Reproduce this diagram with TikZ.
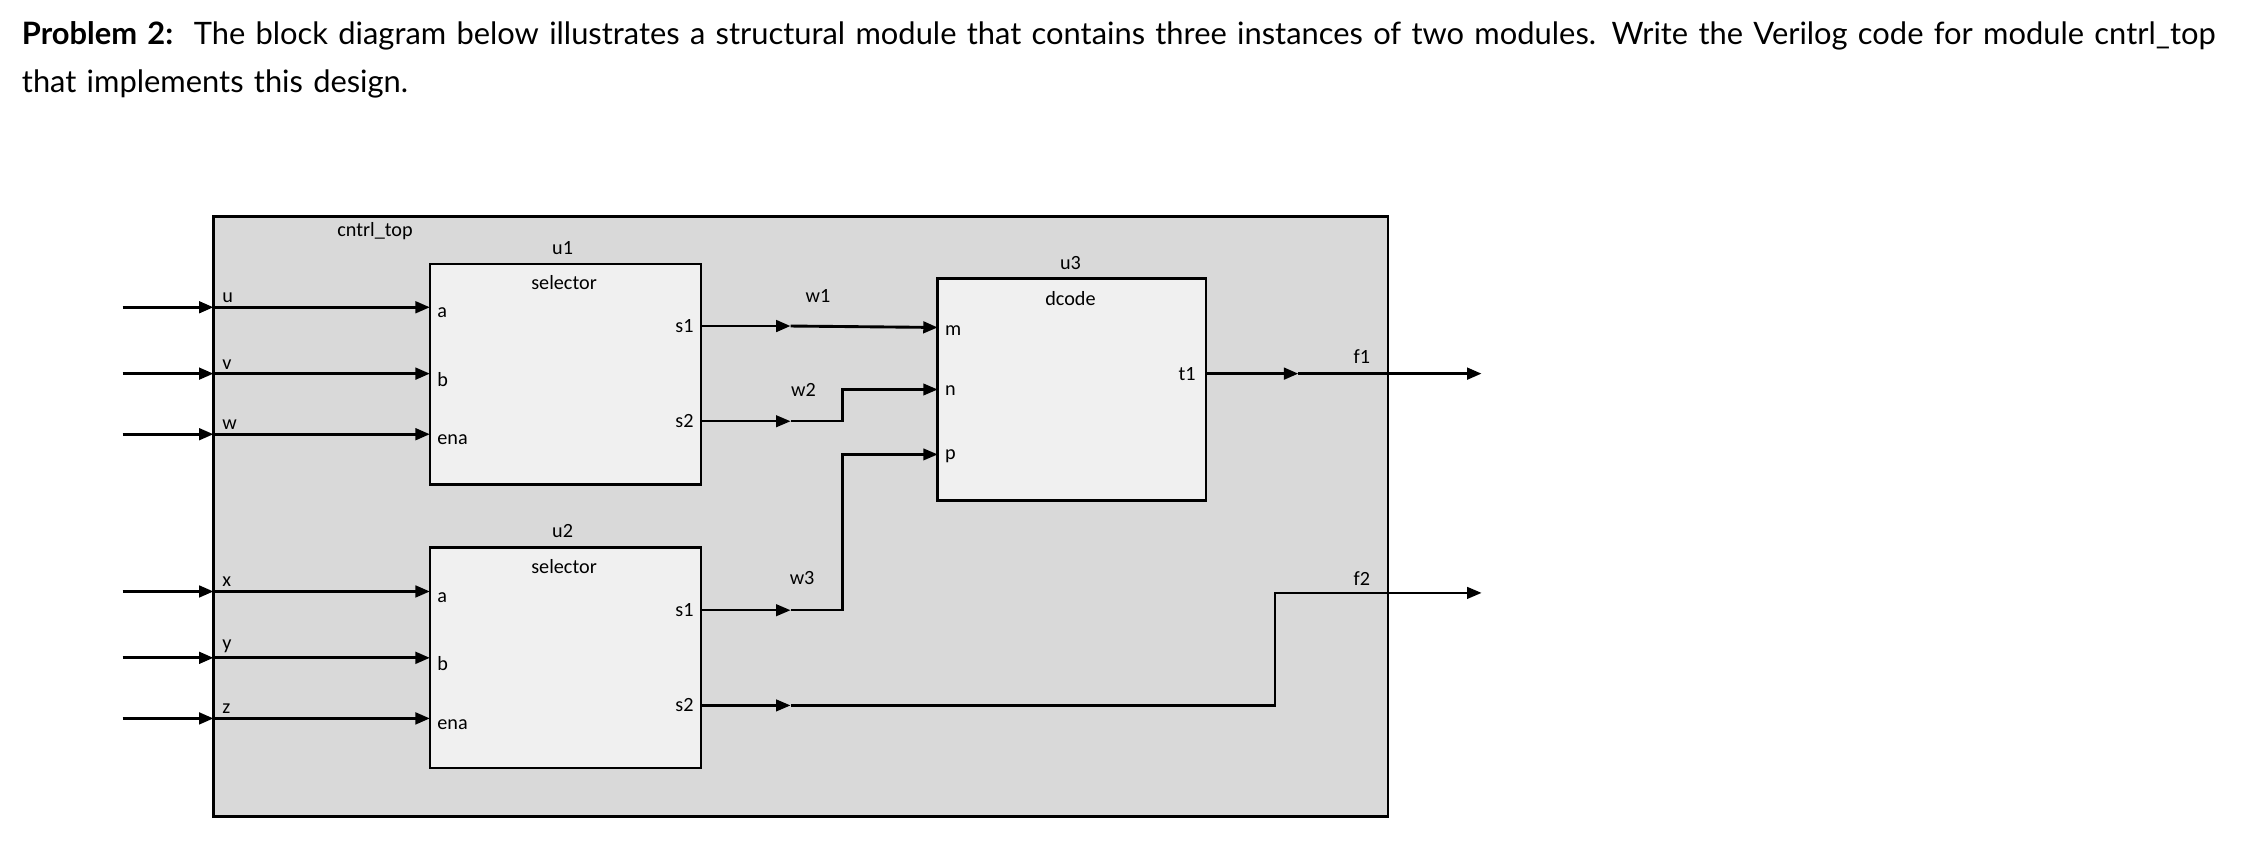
\documentclass[tikz,border=0pt]{standalone}
\usepackage{fontspec}
\setmainfont{Lato}
\newfontfamily\dfont{Carlito}
\usetikzlibrary{arrows.meta}
\begin{document}
\begin{tikzpicture}[x=1pt,y=-1pt,
  blk/.style={draw,line width=1.8pt,fill=gray!12,minimum width=188pt,minimum height=153pt,inner sep=0pt},
  lbl/.style={font=\dfont\fontsize{14}{15}\selectfont,inner sep=1pt},
  sig/.style={line width=2pt},
  thn/.style={line width=1.6pt},
  tip/.style={-{Triangle[length=10pt,width=8pt]}}]
\useasboundingbox (0,0) rectangle (1568,596);
\node[anchor=north west,align=left,inner sep=0pt,text width=1560pt,font=\fontsize{21.4}{33}\selectfont] (hdr) at (15,15)
 {\raggedright\hyphenpenalty=10000 \textbf{Problem 2:}\ \ The block diagram below illustrates a structural module that contains three instances of two modules. Write the Verilog code for module cntrl\_top\\ that implements this design.};
\node[draw,line width=1.8pt,fill=gray!30,minimum width=814pt,minimum height=416pt,inner sep=0pt] (top) at (555,358) {};
\node[lbl] (tn) at (260,160) {cntrl\_top};
\node[blk] (u1) at (392,259.5) {};
\node[blk] (u2) at (392,456) {};
\node[blk,minimum width=186pt,minimum height=154pt] (u3) at (743,270) {};
\node[lbl] at (390,172) {u1};
\node[lbl] at (391,196) {selector};
\node[lbl] at (390,368) {u2};
\node[lbl] at (391,393) {selector};
\node[lbl] at (742,182) {u3};
\node[lbl] at (742,207) {dcode};
% inputs
\foreach \n/\y/\p/\b in {u/213/a/u1,v/259/b/u1,w/301/ena/u1,x/410/a/u2,y/456/b/u2,z/498/ena/u2}{
  \coordinate (in\n) at (85,\y);
  \coordinate (fr\n) at (148,\y);
  \coordinate (pt\n) at (298,\y);
  \draw[sig,tip] (in\n) -- (fr\n);
  \draw[sig,tip] (fr\n) -- (pt\n);
  \node[lbl,anchor=south west] at (153,\y-2) {\n};
  \node[lbl,anchor=west] at (302,\y+4) {\p};
}
\foreach \b/\ya/\yb in {u1/226/292,u2/423/489}{
  \node[lbl,anchor=east] at (482,\ya) {s1};
  \node[lbl,anchor=east] at (482,\yb) {s2};
}
\node[lbl,anchor=west] at (654,229) {m};
\node[lbl,anchor=west] at (654,271) {n};
\node[lbl,anchor=west] at (654,316) {p};
\node[lbl,anchor=east] at (830,259) {t1};
\coordinate (s11) at (486,226); \coordinate (s12) at (486,292);
\coordinate (s21) at (486,423); \coordinate (s22) at (486,489);
\coordinate (a1) at (548,226); \coordinate (a2) at (548,292);
\coordinate (a3) at (548,423); \coordinate (a4) at (548,489);
\coordinate (a5) at (900,259);
\coordinate (m) at (650,227); \coordinate (n) at (650,270); \coordinate (p) at (650,315);
\coordinate (t1) at (836,259); \coordinate (f1) at (1027,259); \coordinate (f2) at (1027,411);
\draw[sig,tip] (s11) -- (a1);
\draw[sig,tip] (a1) -- (m);
\draw[thn,tip] (s12) -- (a2);
\draw[thn,tip] (a2) -- (584,292) -- (584,270) -- (n);
\draw[thn,tip] (s21) -- (a3);
\draw[thn,tip] (a3) -- (584,423) -- (584,315) -- (p);
\draw[thn,tip] (s22) -- (a4);
\draw[thn,tip] (a4) -- (884,489) -- (884,411) -- (f2);
\draw[sig,tip] (t1) -- (a5);
\draw[sig,tip] (a5) -- (f1);
\node[lbl] at (567,205) {w1};
\node[lbl] at (557,270) {w2};
\node[lbl] at (556,401) {w3};
\node[lbl] at (944,247) {f1};
\node[lbl] at (944,401) {f2};
\end{tikzpicture}
\end{document}
